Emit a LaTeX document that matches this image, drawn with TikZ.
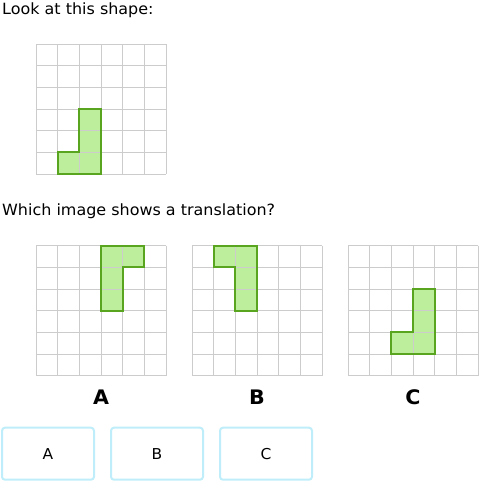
\documentclass[tikz,border=0pt]{standalone}
\usepackage{fontspec}
\setmainfont[FakeStretch=1.03]{DejaVu Sans}
\definecolor{gridgray}{HTML}{CCCCCC}
\definecolor{shapefill}{HTML}{BDEE9B}
\definecolor{shapeline}{HTML}{5AA520}
\definecolor{btnborder}{HTML}{BFEEFA}
\newcommand{\cellgrid}{%
  \foreach \i in {0,...,6}{%
    \draw[gridline] (\i*130/6,0) -- (\i*130/6,130);
    \draw[gridline] (0,\i*130/6) -- (130,\i*130/6);
  }}
\begin{document}
\begin{tikzpicture}[x=1pt,y=-1pt,
  gridline/.style={gridgray, line width=0.9pt},
  lfill/.style={fill=shapefill, draw=none},
  lline/.style={draw=shapeline, line width=2pt, line join=miter},
  qtext/.style={font=\fontsize{15.5}{18}\selectfont, anchor=base west, inner sep=0pt},
  optlabel/.style={font=\fontsize{20}{24}\selectfont\bfseries, anchor=base, inner sep=0pt},
  btn/.style={draw=btnborder, line width=2pt, rounded corners=3pt, minimum width=92pt, minimum height=52pt, font=\fontsize{15}{18}\selectfont, inner sep=0pt}]
\useasboundingbox (0,0) rectangle (480,482);
\node[qtext] (q1) at (2,14) {Look at this shape:};
% original shape
\begin{scope}[shift={(36,44)}, x=130/6*1pt, y=-130/6*1pt]
  \fill[lfill] (1,5) -- (2,5) -- (2,3) -- (3,3) -- (3,6) -- (1,6) -- cycle;
\end{scope}
\begin{scope}[shift={(36,44)}]
  \cellgrid
\end{scope}
\begin{scope}[shift={(36,44)}, x=130/6*1pt, y=-130/6*1pt]
  \draw[lline] (1,5) -- (2,5) -- (2,3) -- (3,3) -- (3,6) -- (1,6) -- cycle;
\end{scope}
\node[qtext] (q2) at (2,215) {Which image shows a translation?};
% A
\begin{scope}[shift={(36,245.7)}, x=130/6*1pt, y=-130/6*1pt]
  \fill[lfill] (3,0) -- (5,0) -- (5,1) -- (4,1) -- (4,3) -- (3,3) -- cycle;
\end{scope}
\begin{scope}[shift={(36,245.7)}]
  \cellgrid
\end{scope}
\begin{scope}[shift={(36,245.7)}, x=130/6*1pt, y=-130/6*1pt]
  \draw[lline] (3,0) -- (5,0) -- (5,1) -- (4,1) -- (4,3) -- (3,3) -- cycle;
\end{scope}
% B
\begin{scope}[shift={(192,245.7)}, x=130/6*1pt, y=-130/6*1pt]
  \fill[lfill] (1,0) -- (3,0) -- (3,3) -- (2,3) -- (2,1) -- (1,1) -- cycle;
\end{scope}
\begin{scope}[shift={(192,245.7)}]
  \cellgrid
\end{scope}
\begin{scope}[shift={(192,245.7)}, x=130/6*1pt, y=-130/6*1pt]
  \draw[lline] (1,0) -- (3,0) -- (3,3) -- (2,3) -- (2,1) -- (1,1) -- cycle;
\end{scope}
% C
\begin{scope}[shift={(348,245.7)}, x=130/6*1pt, y=-130/6*1pt]
  \fill[lfill] (2,4) -- (3,4) -- (3,2) -- (4,2) -- (4,5) -- (2,5) -- cycle;
\end{scope}
\begin{scope}[shift={(348,245.7)}]
  \cellgrid
\end{scope}
\begin{scope}[shift={(348,245.7)}, x=130/6*1pt, y=-130/6*1pt]
  \draw[lline] (2,4) -- (3,4) -- (3,2) -- (4,2) -- (4,5) -- (2,5) -- cycle;
\end{scope}
\node[optlabel] (la) at (101,404) {A};
\node[optlabel] (lb) at (257,404) {B};
\node[optlabel] (lc) at (413,404) {C};
\node[btn] (ba) at (48,453.7) {A};
\node[btn] (bb) at (157,453.7) {B};
\node[btn] (bc) at (266,453.7) {C};
\end{tikzpicture}
\end{document}
